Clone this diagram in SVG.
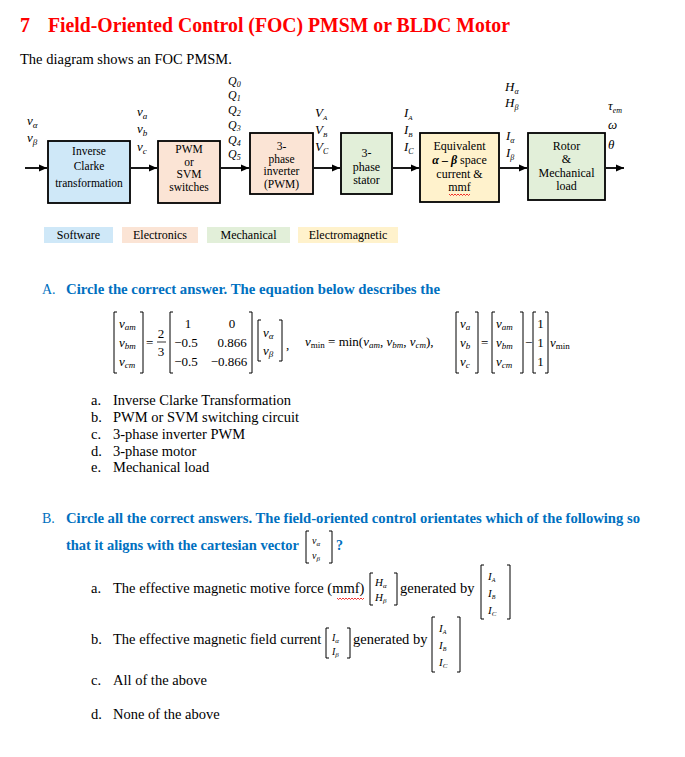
<svg xmlns="http://www.w3.org/2000/svg" width="685" height="757" viewBox="0 0 685 757">
<style>
text{font-family:"Liberation Serif","Times New Roman",serif;fill:#000}
.h1{font-size:20px;font-weight:bold;fill:#ff0000}
.p{font-size:14.5px}
.q{font-size:14px;font-weight:bold;fill:#0070c0}
.qn{font-size:14px;fill:#0070c0}
.bx{font-size:12px;text-anchor:middle}
.bs{font-size:11.5px;text-anchor:middle}
.lbl{font-size:13px;font-style:italic}
.ql{font-size:12px;font-style:italic}
.m{font-size:13px}
.mi{font-style:italic}
.box{stroke:#000;stroke-width:1.8}
.conn{stroke:#000;stroke-width:1.8;fill:none}
.br{stroke:#000;stroke-width:1;fill:none}
.wavy{stroke:#e00;stroke-width:0.8;fill:none}
.sw{fill:#cfe8f8}.el{fill:#fbe4d5}.me{fill:#e2efd9}.em{fill:#fff2cc}
</style>
<defs>
<marker id="ah" markerWidth="8" markerHeight="8" refX="8" refY="4" orient="auto" markerUnits="userSpaceOnUse"><path d="M0,0.5 L8,4 L0,7.5 z" fill="#000"/></marker>
</defs>
<rect width="685" height="757" fill="#fff"/>

<g id="title">
<text x="20" y="32" class="h1">7</text>
<text x="48" y="32" class="h1" textLength="462" lengthAdjust="spacingAndGlyphs">Field-Oriented Control (FOC) PMSM or BLDC Motor</text>
<text x="20" y="64" class="p">The diagram shows an FOC PMSM.</text>
</g>

<g id="connectors">
<line class="conn" x1="25" y1="168" x2="47" y2="168" marker-end="url(#ah)"/>
<line class="conn" x1="131" y1="168" x2="157" y2="168" marker-end="url(#ah)"/>
<line class="conn" x1="221" y1="168" x2="249" y2="168" marker-end="url(#ah)"/>
<line class="conn" x1="314" y1="168" x2="340" y2="168" marker-end="url(#ah)"/>
<line class="conn" x1="393" y1="168" x2="419" y2="168" marker-end="url(#ah)"/>
<line class="conn" x1="500" y1="168" x2="527" y2="168" marker-end="url(#ah)"/>
<line class="conn" x1="606" y1="168" x2="624" y2="168" marker-end="url(#ah)"/>
</g>

<g id="signal-labels">
<text x="27" y="125" class="lbl">v<tspan font-size="9" dy="3">α</tspan></text>
<text x="27" y="142" class="lbl">v<tspan font-size="9" dy="3">β</tspan></text>
<text x="137" y="116" class="lbl">v<tspan font-size="9" dy="3">a</tspan></text>
<text x="137" y="133" class="lbl">v<tspan font-size="9" dy="3">b</tspan></text>
<text x="137" y="151" class="lbl">v<tspan font-size="9" dy="3">c</tspan></text>
<text x="228" y="85" class="ql">Q<tspan font-size="8" dy="2">0</tspan></text>
<text x="228" y="99" class="ql">Q<tspan font-size="8" dy="2">1</tspan></text>
<text x="228" y="114" class="ql">Q<tspan font-size="8" dy="2">2</tspan></text>
<text x="228" y="129" class="ql">Q<tspan font-size="8" dy="2">3</tspan></text>
<text x="228" y="144" class="ql">Q<tspan font-size="8" dy="2">4</tspan></text>
<text x="228" y="158" class="ql">Q<tspan font-size="8" dy="2">5</tspan></text>
<text x="315" y="117" class="lbl">V<tspan font-size="7" dy="3">A</tspan></text>
<text x="315" y="134" class="lbl">V<tspan font-size="7" dy="3">B</tspan></text>
<text x="315" y="151" class="lbl">V<tspan font-size="8" dy="3">C</tspan></text>
<text x="404" y="117" class="lbl">I<tspan font-size="7" dy="3">A</tspan></text>
<text x="404" y="134" class="lbl">I<tspan font-size="7" dy="3">B</tspan></text>
<text x="404" y="151" class="lbl">I<tspan font-size="8" dy="3">C</tspan></text>
<text x="505" y="91" class="lbl">H<tspan font-size="8" dy="3">α</tspan></text>
<text x="505" y="107" class="lbl">H<tspan font-size="8" dy="3">β</tspan></text>
<text x="506" y="140" class="lbl">I<tspan font-size="8" dy="3">α</tspan></text>
<text x="506" y="157" class="lbl">I<tspan font-size="8" dy="3">β</tspan></text>
<text x="608" y="110" class="lbl">τ<tspan font-size="8" dy="3">em</tspan></text>
<text x="608" y="129" class="lbl">ω</text>
<text x="608" y="149" class="lbl">θ</text>
</g>

<g id="inverse-clarke">
<rect x="48" y="141" width="82" height="62" class="box sw"/>
<text x="89" y="155" class="bs">Inverse</text>
<text x="89" y="170" class="bs">Clarke</text>
<text x="89" y="187" class="bs">transformation</text>
</g>
<g id="pwm">
<rect x="158" y="141" width="62" height="62" class="box el"/>
<text x="189" y="153" class="bs">PWM</text>
<text x="189" y="165.5" class="bs">or</text>
<text x="189" y="178" class="bs">SVM</text>
<text x="189" y="191" class="bs">switches</text>
</g>
<g id="inverter">
<rect x="250" y="133" width="63" height="61" class="box el"/>
<text x="281.5" y="150" class="bs">3-</text>
<text x="281.5" y="162.5" class="bs">phase</text>
<text x="281.5" y="175" class="bs">inverter</text>
<text x="281.5" y="188" class="bs">(PWM)</text>
</g>
<g id="stator">
<rect x="341" y="133" width="51" height="61" class="box me"/>
<text x="366.5" y="157" class="bx">3-</text>
<text x="366.5" y="171" class="bx">phase</text>
<text x="366.5" y="184" class="bx">stator</text>
</g>
<g id="equivalent">
<rect x="420" y="133" width="79" height="69" class="box em"/>
<text x="459.5" y="150" class="bx">Equivalent</text>
<text x="459.5" y="164" class="bx"><tspan font-style="italic" font-weight="bold">α – β</tspan> space</text>
<text x="459.5" y="178" class="bx">current &amp;</text>
<text x="459.5" y="191" class="bx">mmf</text>
<path class="wavy" d="M449,194 l1.5,1.5 l1.5,-1.5 l1.5,1.5 l1.5,-1.5 l1.5,1.5 l1.5,-1.5 l1.5,1.5 l1.5,-1.5 l1.5,1.5 l1.5,-1.5 l1.5,1.5 l1.5,-1.5 l1.5,1.5 l1.5,-1.5"/>
</g>
<g id="rotor">
<rect x="528" y="133" width="77" height="67" class="box me"/>
<text x="566.5" y="150" class="bx">Rotor</text>
<text x="566.5" y="163" class="bx">&amp;</text>
<text x="566.5" y="177" class="bx">Mechanical</text>
<text x="566.5" y="190" class="bx">load</text>
</g>

<g id="legend">
<rect x="44" y="227" width="69" height="16" class="sw"/>
<text x="78.5" y="239" class="bx">Software</text>
<rect x="122" y="227" width="76" height="16" class="el"/>
<text x="160" y="239" class="bx">Electronics</text>
<rect x="207" y="227" width="83" height="16" class="me"/>
<text x="248.5" y="239" class="bx">Mechanical</text>
<rect x="298" y="227" width="100" height="16" class="em"/>
<text x="348" y="239" class="bx">Electromagnetic</text>
</g>

<g id="question-a">
<text x="42" y="294" class="qn">A.</text>
<text x="66" y="294" class="q" textLength="374" lengthAdjust="spacingAndGlyphs">Circle the correct answer.  The equation below describes the</text>

<path class="br" d="M117,312 H114 V373 H117 M140,312 H143 V373 H140"/>
<text x="119" y="328" class="m mi">v<tspan font-size="9" dy="2">am</tspan></text>
<text x="119" y="347" class="m mi">v<tspan font-size="9" dy="2">bm</tspan></text>
<text x="119" y="366" class="m mi">v<tspan font-size="9" dy="2">cm</tspan></text>
<text x="146" y="347" class="m">=</text>
<text x="161" y="338" class="m" text-anchor="middle">2</text>
<line x1="157" y1="342" x2="166" y2="342" stroke="#000" stroke-width="0.8"/>
<text x="161" y="356" class="m" text-anchor="middle">3</text>
<path class="br" d="M173,312 H170 V373 H173 M249,312 H252 V373 H249"/>
<text x="188" y="328" class="m" text-anchor="middle">1</text>
<text x="232" y="328" class="m" text-anchor="middle">0</text>
<text x="186" y="347" class="m" text-anchor="middle">−0.5</text>
<text x="232" y="347" class="m" text-anchor="middle">0.866</text>
<text x="186" y="366" class="m" text-anchor="middle">−0.5</text>
<text x="229" y="366" class="m" text-anchor="middle">−0.866</text>
<path class="br" d="M261,320 H258 V361 H261 M279,320 H282 V361 H279"/>
<text x="263" y="337" class="m mi">v<tspan font-size="9" dy="2">α</tspan></text>
<text x="263" y="355" class="m mi">v<tspan font-size="9" dy="2">β</tspan></text>
<text x="286" y="349" class="m">,</text>

<text x="305" y="346" class="m"><tspan class="mi">v</tspan><tspan font-size="9" dy="2">min</tspan><tspan dy="-2"> = min(</tspan><tspan class="mi">v</tspan><tspan font-size="9" dy="2" class="mi">am</tspan><tspan dy="-2">, </tspan><tspan class="mi">v</tspan><tspan font-size="9" dy="2" class="mi">bm</tspan><tspan dy="-2">, </tspan><tspan class="mi">v</tspan><tspan font-size="9" dy="2" class="mi">cm</tspan><tspan dy="-2">),</tspan></text>

<path class="br" d="M459,312 H456 V373 H459 M475,312 H478 V373 H475"/>
<text x="460" y="328" class="m mi">v<tspan font-size="9" dy="2">a</tspan></text>
<text x="460" y="347" class="m mi">v<tspan font-size="9" dy="2">b</tspan></text>
<text x="460" y="366" class="m mi">v<tspan font-size="9" dy="2">c</tspan></text>
<text x="481" y="347" class="m">=</text>
<path class="br" d="M495,312 H492 V373 H495 M520,312 H523 V373 H520"/>
<text x="496" y="328" class="m mi">v<tspan font-size="9" dy="2">am</tspan></text>
<text x="496" y="347" class="m mi">v<tspan font-size="9" dy="2">bm</tspan></text>
<text x="496" y="366" class="m mi">v<tspan font-size="9" dy="2">cm</tspan></text>
<text x="525" y="347" class="m">−</text>
<path class="br" d="M536,312 H533 V373 H536 M545,312 H548 V373 H545"/>
<text x="540.5" y="328" class="m" text-anchor="middle">1</text>
<text x="540.5" y="347" class="m" text-anchor="middle">1</text>
<text x="540.5" y="366" class="m" text-anchor="middle">1</text>
<text x="550" y="347" class="m"><tspan class="mi">v</tspan><tspan font-size="9" dy="2">min</tspan></text>

<text x="91" y="405" class="p">a.</text><text x="113" y="405" class="p">Inverse Clarke Transformation</text>
<text x="91" y="422" class="p">b.</text><text x="113" y="422" class="p">PWM or SVM switching circuit</text>
<text x="91" y="439" class="p">c.</text><text x="113" y="439" class="p">3-phase inverter PWM</text>
<text x="91" y="456" class="p">d.</text><text x="113" y="456" class="p">3-phase motor</text>
<text x="91" y="472" class="p">e.</text><text x="113" y="472" class="p">Mechanical load</text>
</g>

<g id="question-b">
<text x="42" y="523" class="qn">B.</text>
<text x="66" y="523" class="q" textLength="574" lengthAdjust="spacingAndGlyphs">Circle all the correct answers.  The field-oriented control orientates which of the following so</text>
<text x="66" y="550" class="q" textLength="233" lengthAdjust="spacingAndGlyphs">that it aligns with the cartesian vector</text>
<path class="br" d="M309,531 H306 V563 H309 M329,531 H332 V563 H329"/>
<text x="312" y="544" font-size="10" class="mi">v<tspan font-size="7" dy="2">α</tspan></text>
<text x="312" y="559" font-size="10" class="mi">v<tspan font-size="7" dy="2">β</tspan></text>
<text x="336" y="550" class="q">?</text>

<text x="91" y="593" class="p">a.</text>
<text x="113" y="593" class="p">The effective magnetic motive force (mmf)</text>
<path class="wavy" d="M337,598 l1.5,1.5 l1.5,-1.5 l1.5,1.5 l1.5,-1.5 l1.5,1.5 l1.5,-1.5 l1.5,1.5 l1.5,-1.5 l1.5,1.5 l1.5,-1.5 l1.5,1.5 l1.5,-1.5 l1.5,1.5 l1.5,-1.5 l1.5,1.5 l1.5,-1.5 l1.5,1.5 l1.5,-1.5"/>
<path class="br" d="M373,573 H370 V605 H373 M394,573 H397 V605 H394"/>
<text x="375" y="586" font-size="11" class="mi">H<tspan font-size="7" dy="2">α</tspan></text>
<text x="375" y="601" font-size="11" class="mi">H<tspan font-size="7" dy="2">β</tspan></text>
<text x="400" y="593" class="p">generated by</text>
<path class="br" d="M484,565 H481 V619 H484 M507,565 H510 V619 H507"/>
<text x="488" y="580" font-size="11" class="mi">I<tspan font-size="6" dy="2">A</tspan></text>
<text x="488" y="597" font-size="11" class="mi">I<tspan font-size="6" dy="2">B</tspan></text>
<text x="488" y="614" font-size="11" class="mi">I<tspan font-size="7" dy="2">C</tspan></text>

<text x="91" y="644" class="p">b.</text>
<text x="113" y="644" class="p">The effective magnetic field current</text>
<path class="br" d="M329,628 H326 V658 H329 M347,628 H350 V658 H347"/>
<text x="332" y="641" font-size="10" class="mi">I<tspan font-size="7" dy="2">α</tspan></text>
<text x="332" y="655" font-size="10" class="mi">I<tspan font-size="7" dy="2">β</tspan></text>
<text x="353" y="644" class="p">generated by</text>
<path class="br" d="M435,617 H432 V672 H435 M457,617 H460 V672 H457"/>
<text x="439" y="632" font-size="11" class="mi">I<tspan font-size="6" dy="2">A</tspan></text>
<text x="439" y="649" font-size="11" class="mi">I<tspan font-size="6" dy="2">B</tspan></text>
<text x="439" y="666" font-size="11" class="mi">I<tspan font-size="7" dy="2">C</tspan></text>

<text x="91" y="685" class="p">c.</text><text x="113" y="685" class="p">All of the above</text>
<text x="91" y="719" class="p">d.</text><text x="113" y="719" class="p">None of the above</text>
</g>
</svg>
